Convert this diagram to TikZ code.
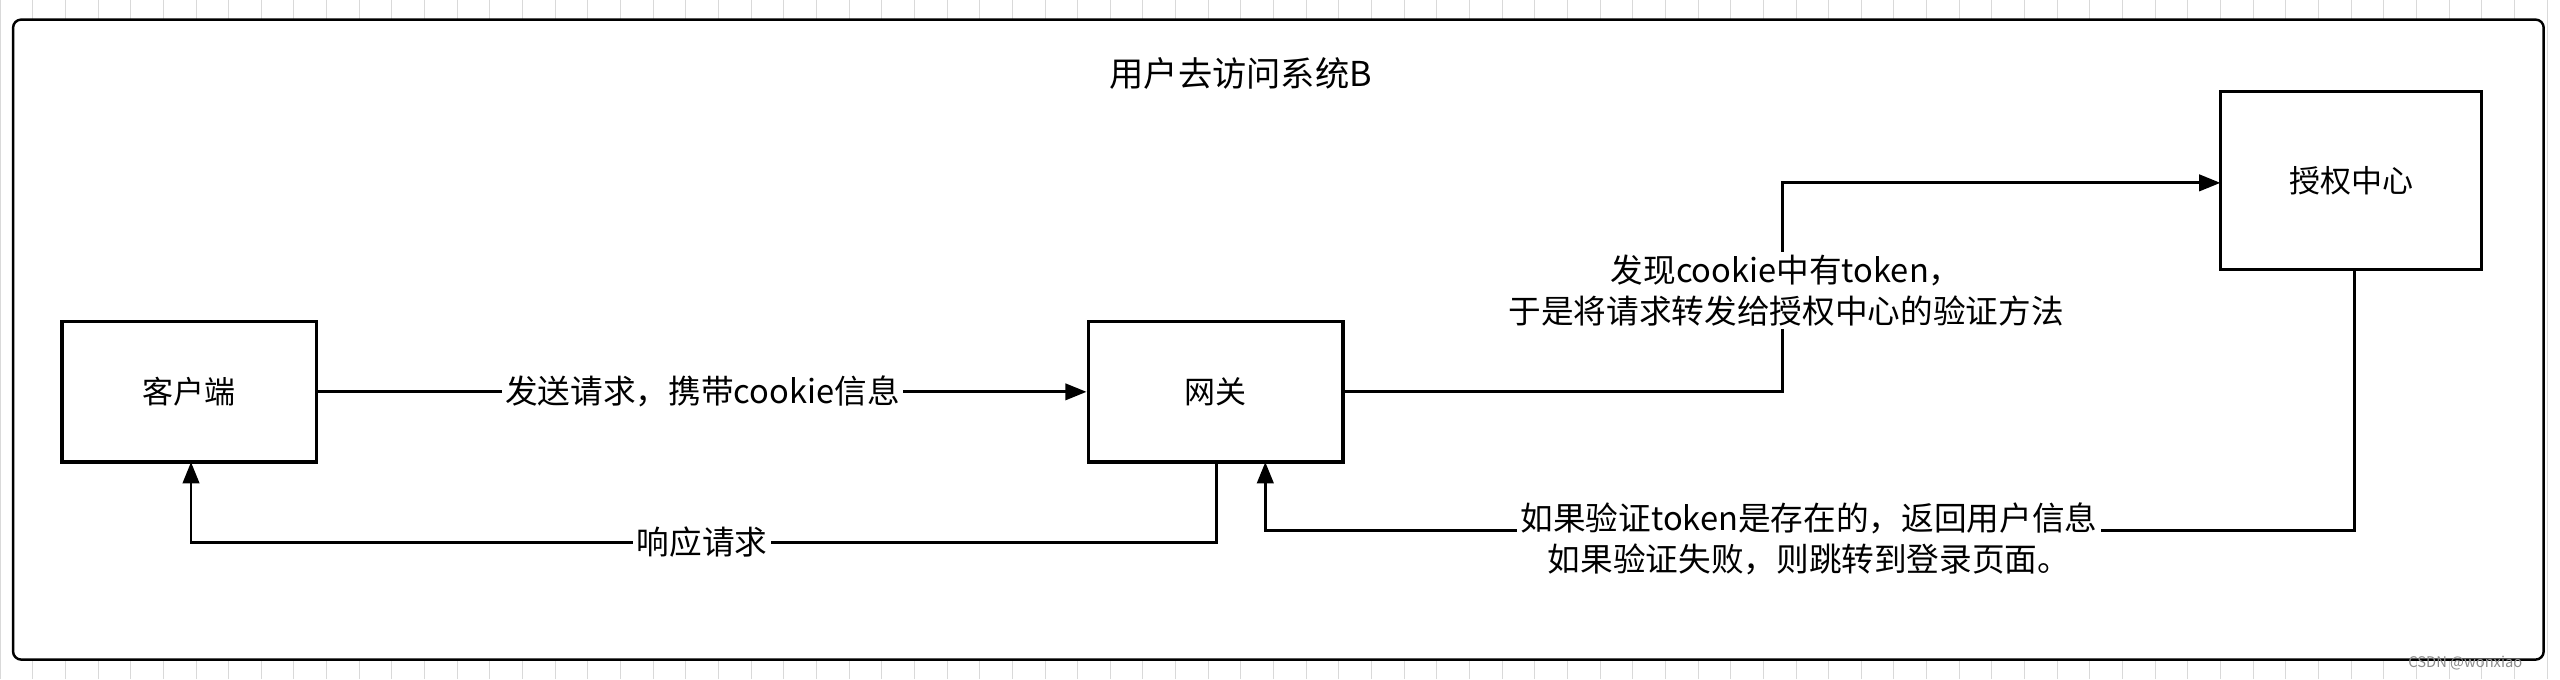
\documentclass[tikz,border=0pt]{standalone}
\usepackage{fontspec}
\setmainfont{Noto Sans CJK SC}
\usetikzlibrary{arrows.meta}
\begin{document}
\begin{tikzpicture}[x=1pt,y=-1pt,
  box/.style={draw,line width=2pt,minimum width=156pt,minimum height=86pt,font=\fontsize{19}{22}\selectfont},
  conn/.style={line width=1.8pt,-{Triangle[length=13pt,width=10pt]}},
  lbl/.style={fill=white,font=\fontsize{20}{25}\selectfont,align=center,inner sep=2pt}]
\useasboundingbox (0,0) rectangle (1568,416);
\draw[black!15,line width=0.5pt,step=20] (0,0) grid (1568,416);
\draw[fill=white,line width=1.5pt,rounded corners=5pt] (8,12) rectangle (1558,404);
\node[font=\fontsize{21}{24}\selectfont] (title) at (760,45) {用户去访问系统B};
\node[box] (client) at (116,240) {客户端};
\node[box] (gw) at (744.5,240) {网关};
\node[box,minimum width=160pt,minimum height=109pt] (auth) at (1440,110.5) {授权中心};
\draw[conn] (client.east) -- node[lbl,pos=0.5]{发送请求，携带cookie信息} (gw.east -| gw.west);
\coordinate (c1) at (1092,240);
\draw[conn] (gw.east) -- (c1) -- (1092,112) -- (1360,112);
\node[lbl] (l2) at (1094,178) {发现cookie中有token，\\于是将请求转发给授权中心的验证方法};
\draw[conn] (1442,165) -- (1442,325) -- (775,325) -- (775,283);
\node[lbl] (l3) at (1108,330) {如果验证token是存在的，返回用户信息\\如果验证失败，则跳转到登录页面。};
\draw[conn] (745,283) -- (745,332) -- (117,332) -- (117,283);
\node[lbl] (l4) at (430,332) {响应请求};
\node[font=\fontsize{9}{10}\selectfont,text=black!45] (wm) at (1510,406) {CSDN @wonxiao};
\end{tikzpicture}
\end{document}
